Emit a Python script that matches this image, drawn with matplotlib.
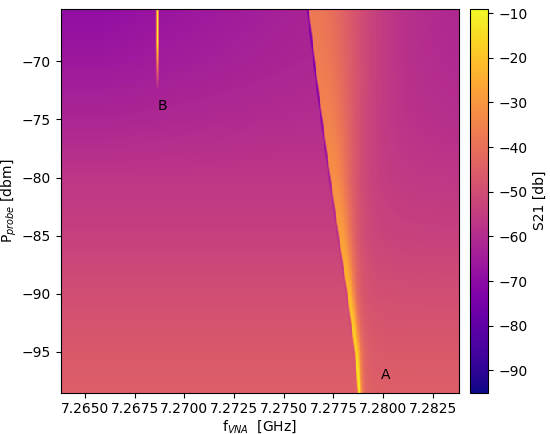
import numpy as np
import matplotlib.pyplot as plt

# values (resonance A track vs probe power)
power_pts = [-98.5, -95, -90, -85, -80, -75, -70, -65.5]
f_res_pts = [7.27878, 7.27862, 7.27825, 7.27782, 7.27740, 7.27700, 7.27662, 7.27630]
peak_db_pts = [-12, -16, -22, -28, -32, -35, -37, -38]
width_pts = [0.00012, 0.0002, 0.0003, 0.0006, 0.0010, 0.0016, 0.0022, 0.0026]
dip_db_pts = [0, -2, -4, -6, -9, -12, -14, -14]
bg_db_pts = [-45, -47, -50, -54, -57, -60, -62, -63]

# line B
f_b = 7.26865
p_b_end = -72.5
b_db = -12

f_lo, f_hi = 7.2638, 7.2838
p_lo, p_hi = -98.5, -65.5

freq = np.linspace(f_lo, f_hi, 500)
power = np.linspace(p_lo, p_hi, 330)
F, P = np.meshgrid(freq, power)

f_res = np.interp(P, power_pts, f_res_pts)
peak = np.interp(P, power_pts, peak_db_pts)
width = np.interp(P, power_pts, width_pts)
dip = np.interp(P, power_pts, dip_db_pts)
bg = np.interp(P, power_pts, bg_db_pts)

# asymmetric peak: sharp on left edge, broad tail to the right
d = F - f_res
right = 1 / (1 + (np.clip(d, 0, None) / width) ** 2.5)
left = np.exp(-(np.clip(-d, 0, None) / 0.00006) ** 2)
shape = np.where(d >= 0, right, left)
S21 = bg + (peak - bg) * shape
S21 += dip * np.exp(-((F - (f_res - 0.0001)) / 0.00005) ** 2)
# darker top-left region
S21 -= 6 * np.clip((P + 80) / 15, 0, 1) * np.clip((7.276 - F) / 0.01, 0, 1)

line_b = np.exp(-((F - f_b) / 0.00005) ** 2) * (P > p_b_end)
S21 = S21 + (b_db - S21) * line_b * np.clip((P - p_b_end) / 4, 0, 1)

fig = plt.figure(figsize=(5.5, 4.34), dpi=100)
ax = fig.add_axes([0.11, 0.095, 0.725, 0.885])
cax = fig.add_axes([0.855, 0.095, 0.033, 0.885])

im = ax.pcolormesh(freq, power, S21, cmap='plasma', vmin=-95, vmax=-9, shading='auto')
cb = fig.colorbar(im, cax=cax)
cb.set_label('S21 [db]')
cb.set_ticks([-90, -80, -70, -60, -50, -40, -30, -20, -10])

ax.set_xticks(np.arange(7.265, 7.2826, 0.0025))
ax.set_xticklabels([f'{v:.4f}' for v in np.arange(7.265, 7.2826, 0.0025)])
ax.set_yticks([-95, -90, -85, -80, -75, -70])
ax.set_xlabel(r'f$_{VNA}$  [GHz]', labelpad=1)
ax.set_ylabel(r'P$_{probe}$ [dbm]', labelpad=2)
ax.text(7.2801, -97, 'A', ha='center', va='center')
ax.text(7.2689, -73.8, 'B', ha='center', va='center')

fig.savefig('out.png', dpi=100)
